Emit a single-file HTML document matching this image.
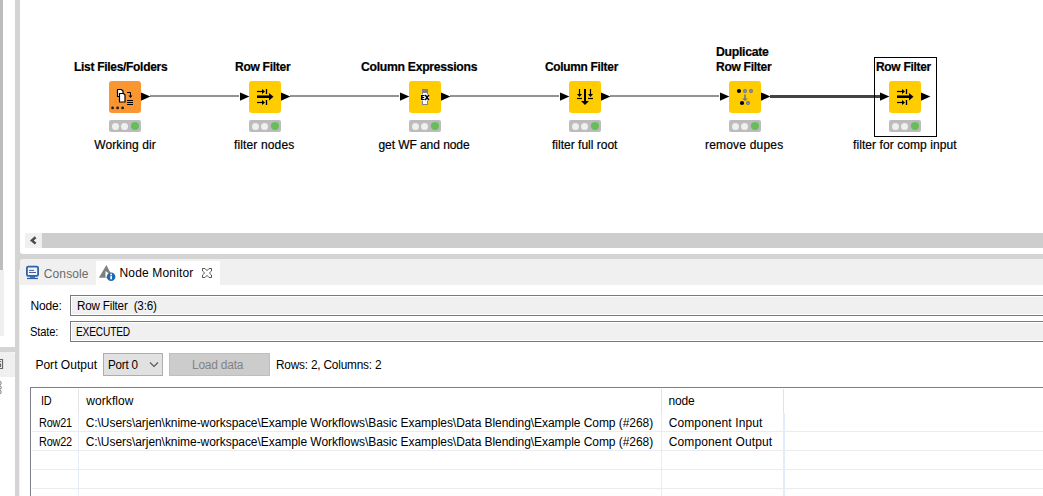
<!DOCTYPE html>
<html><head><meta charset="utf-8">
<style>
*{margin:0;padding:0;box-sizing:border-box}
html,body{width:1043px;height:496px;overflow:hidden;background:#fff;position:relative;font-family:"Liberation Sans",sans-serif;color:#000}
.a{position:absolute}
.t{position:absolute;white-space:pre;-webkit-text-stroke:0.2px currentColor}
.node{position:absolute;width:32px;height:32px;border-radius:3px;background:#ffcc00;top:81px}
.node svg{position:absolute;left:0;top:0}
.port{position:absolute;top:92px}
.tl{position:absolute;top:120px;width:32px;height:12px;background:#bcbcbc;border-radius:2px}
.tl i{position:absolute;top:2.5px;width:7px;height:7px;border-radius:50%;background:#efefef}
.tl i.g{background:#67bd5c;width:8px;height:8px;top:2px}
.conn{position:absolute;top:95px;height:2px;background:#939393}
</style></head><body>
<!-- left strip -->
<div class="a" style="left:0;top:0;width:3px;height:270px;background:#bdbdbd"></div>
<div class="a" style="left:0;top:270px;width:4px;height:66px;background:#efefef"></div>
<div class="a" style="left:0;top:347px;width:15px;height:5px;background:#d4d4d4"></div>
<div class="a" style="left:0;top:352px;width:15px;height:25px;background:#f0f0f0;border-top-right-radius:3px"></div>
<svg class="a" style="left:0;top:358px" width="4" height="12"><path d="M-6 1.5H2.5V10.5H-6" fill="none" stroke="#666" stroke-width="1.2"/><path d="M0.5 3V4M0.5 5.5V9" stroke="#666" stroke-width="1.1"/></svg>
<svg class="a" style="left:0;top:380px" width="4" height="16"><circle cx="-0.8" cy="3" r="2" fill="none" stroke="#777" stroke-width="1"/><circle cx="-0.8" cy="7.5" r="2" fill="none" stroke="#777" stroke-width="1"/><circle cx="-0.8" cy="12" r="2" fill="none" stroke="#777" stroke-width="1"/></svg>
<div class="a" style="left:15px;top:0;width:5px;height:259px;background:#d4d4d4"></div>
<div class="a" style="left:15px;top:259px;width:4px;height:237px;background:#d4d4d4"></div>
<div class="a" style="left:19px;top:259px;width:1px;height:237px;background:#f0f0f0"></div>

<!-- corner fills -->
<div class="a" style="left:15px;top:240px;width:12px;height:30px;background:#d4d4d4"></div>
<div class="a" style="left:20px;top:0;width:1023px;height:254px;background:#fff;border-bottom-left-radius:3px"></div>
<!-- canvas scrollbar -->
<div class="a" style="left:25px;top:233px;width:17px;height:15px;background:#f0f0f0"></div>
<svg class="a" style="left:25px;top:233px" width="17" height="16"><path d="M10.6 4.3 L6.9 7.4 L10.6 10.6" fill="none" stroke="#4a4a4a" stroke-width="2.5"/></svg>
<div class="a" style="left:42px;top:233px;width:1001px;height:15px;background:#cdcdcd"></div>
<div class="a" style="left:20px;top:254px;width:1023px;height:5px;background:#d4d4d4"></div>

<!-- connections -->
<div class="conn" style="left:150px;width:89px"></div>
<div class="conn" style="left:290px;width:109px"></div>
<div class="conn" style="left:450px;width:109px"></div>
<div class="conn" style="left:610px;width:109px"></div>
<div class="conn" style="left:770px;width:110px;height:3px;background:#444"></div>

<!-- ports -->
<svg class="port" style="left:141px" width="10" height="10"><path d="M0 0.4L9.4 4.6L0 8.8Z" fill="#000"/></svg>
<svg class="port" style="left:240px" width="10" height="10"><path d="M0 0.4L9.4 4.6L0 8.8Z" fill="#000"/></svg>
<svg class="port" style="left:281px" width="10" height="10"><path d="M0 0.4L9.4 4.6L0 8.8Z" fill="#000"/></svg>
<svg class="port" style="left:400px" width="10" height="10"><path d="M0 0.4L9.4 4.6L0 8.8Z" fill="#000"/></svg>
<svg class="port" style="left:441px" width="10" height="10"><path d="M0 0.4L9.4 4.6L0 8.8Z" fill="#000"/></svg>
<svg class="port" style="left:560px" width="10" height="10"><path d="M0 0.4L9.4 4.6L0 8.8Z" fill="#000"/></svg>
<svg class="port" style="left:601px" width="10" height="10"><path d="M0 0.4L9.4 4.6L0 8.8Z" fill="#000"/></svg>
<svg class="port" style="left:720px" width="10" height="10"><path d="M0 0.4L9.4 4.6L0 8.8Z" fill="#000"/></svg>
<svg class="port" style="left:761px" width="10" height="10"><path d="M0 0.4L9.4 4.6L0 8.8Z" fill="#000"/></svg>
<svg class="port" style="left:880px" width="10" height="10"><path d="M0 0.4L9.4 4.6L0 8.8Z" fill="#000"/></svg>
<svg class="port" style="left:921px" width="10" height="10"><path d="M0 0.4L9.4 4.6L0 8.8Z" fill="#000"/></svg>

<!-- node 1: List Files/Folders -->
<div class="node" style="left:109px;background:#fa9632">
<svg width="32" height="32">
 <path d="M8.5 8.5H12.5L14 10V15.5H8.5Z" fill="#fff" stroke="#000" stroke-width="1.2"/>
 <path d="M10.5 12.5H14.5L16 14V21H10.5Z" fill="#fff" stroke="#000" stroke-width="1.2"/>
 <path d="M18 11.5H21.5V15.5" fill="none" stroke="#000" stroke-width="1"/>
 <path d="M19.5 14.5H23.5L21.5 17Z" fill="#000"/>
 <path d="M18 19.5H24M18 21.5H24M18 23.5H24" stroke="#000" stroke-width="1"/>
 <circle cx="3.6" cy="26.9" r="1.4" fill="#142030"/><circle cx="8.6" cy="26.9" r="1.4" fill="#142030"/><circle cx="13.6" cy="26.9" r="1.4" fill="#142030"/>
</svg></div>
<div class="tl" style="left:109px"><i style="left:3px"></i><i style="left:12.4px"></i><i class="g" style="left:22px"></i></div>

<!-- node 2: Row Filter -->
<div class="node" style="left:249px">
<svg width="32" height="32">
 <path d="M8 10.5H14" stroke="#000" stroke-width="1.2"/><path d="M13 8L16 10.5L13 13Z" fill="#000"/><path d="M17.5 8V13" stroke="#000" stroke-width="1.3"/>
 <path d="M8 15.7H21" stroke="#000" stroke-width="2.6"/><path d="M20 12L24.5 15.7L20 19.5Z" fill="#000"/>
 <path d="M8 21.5H14" stroke="#000" stroke-width="1.2"/><path d="M13 19L16 21.5L13 24Z" fill="#000"/><path d="M17.5 19V24" stroke="#000" stroke-width="1.3"/>
</svg></div>
<div class="tl" style="left:249px"><i style="left:3px"></i><i style="left:12.4px"></i><i class="g" style="left:22px"></i></div>

<!-- node 3: Column Expressions -->
<div class="node" style="left:409px">
<svg width="32" height="32">
 <rect x="13.5" y="8.5" width="5" height="15" fill="#fff" stroke="#80808a" stroke-width="1"/>
 <rect x="13" y="8" width="6" height="4" fill="#80808a"/>
 <rect x="12" y="13.5" width="8" height="6" fill="#fff"/>
 <rect x="12" y="14" width="1.5" height="5" fill="#000"/>
 <rect x="12" y="14" width="3.6" height="1.1" fill="#000"/>
 <rect x="12" y="16" width="3.2" height="1" fill="#000"/>
 <rect x="12" y="17.9" width="3.6" height="1.1" fill="#000"/>
 <path d="M16.2 14L19.9 19M19.9 14L16.2 19" stroke="#000" stroke-width="1.4"/>
</svg></div>
<div class="tl" style="left:409px"><i style="left:3px"></i><i style="left:12.4px"></i><i class="g" style="left:22px"></i></div>

<!-- node 4: Column Filter -->
<div class="node" style="left:569px">
<svg width="32" height="32">
 <path d="M16 8V21" stroke="#000" stroke-width="2"/><path d="M12 20H20L16 24Z" fill="#000"/>
 <path d="M10.5 8V13.5" stroke="#000" stroke-width="1.2"/><path d="M8 13H13L10.5 16Z" fill="#000"/><path d="M8 17.5H13" stroke="#000" stroke-width="1.2"/>
 <path d="M21.5 8V13.5" stroke="#000" stroke-width="1.2"/><path d="M19 13H24L21.5 16Z" fill="#000"/><path d="M19 17.5H24" stroke="#000" stroke-width="1.2"/>
</svg></div>
<div class="tl" style="left:569px"><i style="left:3px"></i><i style="left:12.4px"></i><i class="g" style="left:22px"></i></div>

<!-- node 5: Duplicate Row Filter -->
<div class="node" style="left:729px">
<svg width="32" height="32">
 <circle cx="10" cy="10" r="2.1" fill="#000"/><circle cx="16" cy="10" r="1.7" fill="#858ba6" stroke="#6f7694" stroke-width="0.8"/><circle cx="22" cy="10" r="1.7" fill="#858ba6" stroke="#6f7694" stroke-width="0.8"/>
 <path d="M16 13.5V18" stroke="#6f7694" stroke-width="1.6"/><path d="M13 17.5H19L16 20Z" fill="#6f7694"/>
 <circle cx="13" cy="22" r="2.1" fill="#000"/><circle cx="19" cy="22" r="1.7" fill="#858ba6" stroke="#6f7694" stroke-width="0.8"/>
</svg></div>
<div class="tl" style="left:729px"><i style="left:3px"></i><i style="left:12.4px"></i><i class="g" style="left:22px"></i></div>

<!-- node 6: Row Filter (selected) -->
<div class="a" style="left:874px;top:57px;width:63px;height:80px;border:1px solid #000"></div>
<div class="node" style="left:889px">
<svg width="32" height="32">
 <path d="M8 10.5H14" stroke="#000" stroke-width="1.2"/><path d="M13 8L16 10.5L13 13Z" fill="#000"/><path d="M17.5 8V13" stroke="#000" stroke-width="1.3"/>
 <path d="M8 15.7H21" stroke="#000" stroke-width="2.6"/><path d="M20 12L24.5 15.7L20 19.5Z" fill="#000"/>
 <path d="M8 21.5H14" stroke="#000" stroke-width="1.2"/><path d="M13 19L16 21.5L13 24Z" fill="#000"/><path d="M17.5 19V24" stroke="#000" stroke-width="1.3"/>
</svg></div>
<div class="tl" style="left:889px"><i style="left:3px"></i><i style="left:12.4px"></i><i class="g" style="left:22px"></i></div>

<!-- bottom panel tab bar -->
<div class="a" style="left:20px;top:259px;width:1023px;height:26px;background:#f0f0f0;border-top-left-radius:3px"></div>
<div class="a" style="left:96px;top:261px;width:124px;height:24px;background:#fff"></div>
<!-- console icon -->
<svg class="a" style="left:26px;top:265px" width="14" height="15">
 <rect x="0.9" y="1.7" width="11.2" height="9.1" rx="1.3" fill="#eef6fc" stroke="#2f62a8" stroke-width="1.8"/>
 <path d="M3 5.4H8M3 7.5H10" stroke="#4a5c9c" stroke-width="1"/>
 <rect x="4" y="11.2" width="5" height="1.6" fill="#2f62a8"/>
 <rect x="1" y="12.8" width="11" height="1.3" fill="#2f62a8"/>
</svg>
<!-- node monitor icon -->
<svg class="a" style="left:97px;top:263px" width="20" height="20">
 <path d="M9.4 2L16 14.8H1.9Z" fill="#808080"/>
 <path d="M8.5 8L13 11.5L8.5 14.8Z" fill="#fff"/>
 <circle cx="14.1" cy="13.7" r="4.3" fill="#1f68b4"/>
 <rect x="13.3" y="10.7" width="1.7" height="1.4" fill="#fff"/>
 <rect x="13.3" y="12.7" width="1.7" height="3.6" fill="#fff"/>
</svg>
<!-- close icon -->
<svg class="a" style="left:202px;top:268px" width="11" height="11">
 <path d="M0.5 0.5H3L5 2.6L7 0.5H9.5V3L7.4 5L9.5 7V9.5H7L5 7.4L3 9.5H0.5V7L2.6 5L0.5 3Z" fill="none" stroke="#555" stroke-width="1"/>
</svg>
<!-- fields -->
<div class="a" style="left:70px;top:295px;width:980px;height:21px;border:1px solid #7a7a7a;background:#f0f0f0;box-shadow:inset 0 0 0 1px #fff"></div>
<div class="a" style="left:70px;top:321px;width:980px;height:21px;border:1px solid #7a7a7a;background:#f0f0f0;box-shadow:inset 0 0 0 1px #fff"></div>

<!-- port output row -->
<div class="a" style="left:103px;top:353px;width:60px;height:23px;border:1px solid #adadad;background:#e1e1e1"></div>
<svg class="a" style="left:149px;top:361px" width="11" height="8"><path d="M1 1.5L5 5.5L9 1.5" fill="none" stroke="#555" stroke-width="1.1"/></svg>
<div class="a" style="left:169px;top:353px;width:101px;height:23px;border:1px solid #bfbfbf;background:#cccccc"></div>

<!-- table -->
<div class="a" style="left:30px;top:387px;width:1013px;height:1px;background:#7a7f8a"></div>
<div class="a" style="left:30px;top:387px;width:1px;height:109px;background:#7a7f8a"></div>
<div class="a" style="left:78px;top:389px;width:1px;height:24px;background:#e3e3e3"></div>
<div class="a" style="left:661px;top:389px;width:1px;height:24px;background:#e3e3e3"></div>
<div class="a" style="left:783px;top:389px;width:1px;height:24px;background:#e3e3e3"></div>
<div class="a" style="left:78px;top:413px;width:1px;height:83px;background:#e6edf6"></div>
<div class="a" style="left:661px;top:413px;width:1px;height:83px;background:#e6edf6"></div>
<div class="a" style="left:783px;top:413px;width:2px;height:83px;background:#e3ecf8"></div>
<div class="a" style="left:32px;top:431px;width:1011px;height:1px;background:#ececec"></div>
<div class="a" style="left:32px;top:450px;width:1011px;height:1px;background:#ececec"></div>
<div class="a" style="left:32px;top:469px;width:1011px;height:1px;background:#ececec"></div>
<div class="a" style="left:32px;top:488px;width:1011px;height:1px;background:#ececec"></div>

<div class="t" style="left:74.00px;top:60.58px;font-size:12.4px;line-height:12.4px;font-weight:bold;color:#000;letter-spacing:-0.300px;transform:scaleX(0.9666);transform-origin:0 0">List Files/Folders</div>
<div class="t" style="left:235.30px;top:60.58px;font-size:12.4px;line-height:12.4px;font-weight:bold;color:#000;letter-spacing:-0.300px;transform:scaleX(0.9722);transform-origin:0 0">Row Filter</div>
<div class="t" style="left:361.00px;top:60.58px;font-size:12.4px;line-height:12.4px;font-weight:bold;color:#000;letter-spacing:-0.300px;transform:scaleX(0.9858);transform-origin:0 0">Column Expressions</div>
<div class="t" style="left:545.30px;top:60.58px;font-size:12.4px;line-height:12.4px;font-weight:bold;color:#000;letter-spacing:-0.300px;transform:scaleX(0.9609);transform-origin:0 0">Column Filter</div>
<div class="t" style="left:716.00px;top:45.98px;font-size:12.4px;line-height:12.4px;font-weight:bold;color:#000;letter-spacing:-0.300px;transform:scaleX(0.9914);transform-origin:0 0">Duplicate</div>
<div class="t" style="left:715.50px;top:60.58px;font-size:12.4px;line-height:12.4px;font-weight:bold;color:#000;letter-spacing:-0.300px;transform:scaleX(0.9722);transform-origin:0 0">Row Filter</div>
<div class="t" style="left:875.70px;top:60.58px;font-size:12.4px;line-height:12.4px;font-weight:bold;color:#000;letter-spacing:-0.300px;transform:scaleX(0.9656);transform-origin:0 0">Row Filter</div>
<div class="t" style="left:94.20px;top:138.93px;font-size:12px;line-height:12px;font-weight:normal;color:#000;letter-spacing:0.103px">Working dir</div>
<div class="t" style="left:234.00px;top:138.93px;font-size:12px;line-height:12px;font-weight:normal;color:#000;letter-spacing:0.136px">filter nodes</div>
<div class="t" style="left:378.40px;top:138.93px;font-size:12px;line-height:12px;font-weight:normal;color:#000;letter-spacing:-0.056px">get WF and node</div>
<div class="t" style="left:552.00px;top:138.93px;font-size:12px;line-height:12px;font-weight:normal;color:#000;letter-spacing:0.005px">filter full root</div>
<div class="t" style="left:705.00px;top:138.93px;font-size:12px;line-height:12px;font-weight:normal;color:#000;letter-spacing:0.196px">remove dupes</div>
<div class="t" style="left:853.10px;top:138.93px;font-size:12px;line-height:12px;font-weight:normal;color:#000;letter-spacing:0.070px">filter for comp input</div>
<div class="t" style="left:43.80px;top:267.83px;font-size:12px;line-height:12px;font-weight:normal;color:#6a6a6a;letter-spacing:0.108px;-webkit-text-stroke:0">Console</div>
<div class="t" style="left:119.50px;top:266.83px;font-size:12px;line-height:12px;font-weight:normal;color:#000;letter-spacing:0.160px;-webkit-text-stroke:0">Node Monitor</div>
<div class="t" style="left:30.40px;top:300.03px;font-size:12px;line-height:12px;font-weight:normal;color:#000;letter-spacing:-0.147px;-webkit-text-stroke:0">Node:</div>
<div class="t" style="left:76.60px;top:299.93px;font-size:12px;line-height:12px;font-weight:normal;color:#000;letter-spacing:-0.200px;transform:scaleX(0.9724);transform-origin:0 0;-webkit-text-stroke:0">Row Filter  (3:6)</div>
<div class="t" style="left:30.40px;top:325.93px;font-size:12px;line-height:12px;font-weight:normal;color:#000;letter-spacing:-0.200px;transform:scaleX(0.9317);transform-origin:0 0;-webkit-text-stroke:0">State:</div>
<div class="t" style="left:76.30px;top:325.93px;font-size:12px;line-height:12px;font-weight:normal;color:#000;letter-spacing:-0.200px;transform:scaleX(0.8466);transform-origin:0 0;-webkit-text-stroke:0">EXECUTED</div>
<div class="t" style="left:35.40px;top:358.83px;font-size:12px;line-height:12px;font-weight:normal;color:#000;letter-spacing:0.027px;-webkit-text-stroke:0">Port Output</div>
<div class="t" style="left:107.70px;top:358.93px;font-size:12px;line-height:12px;font-weight:normal;color:#000;letter-spacing:-0.200px;transform:scaleX(0.9678);transform-origin:0 0;-webkit-text-stroke:0">Port 0</div>
<div class="t" style="left:192.00px;top:358.83px;font-size:12px;line-height:12px;font-weight:normal;color:#838383;letter-spacing:-0.200px;transform:scaleX(0.9942);transform-origin:0 0;-webkit-text-stroke:0">Load data</div>
<div class="t" style="left:276.00px;top:358.63px;font-size:12px;line-height:12px;font-weight:normal;color:#000;letter-spacing:-0.200px;transform:scaleX(0.9853);transform-origin:0 0;-webkit-text-stroke:0">Rows: 2, Columns: 2</div>
<div class="t" style="left:40.69px;top:395.03px;font-size:12px;line-height:12px;font-weight:normal;color:#000;letter-spacing:-0.200px;transform:scaleX(0.9088);transform-origin:0 0;-webkit-text-stroke:0">ID</div>
<div class="t" style="left:86.30px;top:395.03px;font-size:12px;line-height:12px;font-weight:normal;color:#000;letter-spacing:0.070px;-webkit-text-stroke:0">workflow</div>
<div class="t" style="left:668.50px;top:395.03px;font-size:12px;line-height:12px;font-weight:normal;color:#000;letter-spacing:-0.174px;-webkit-text-stroke:0">node</div>
<div class="t" style="left:38.60px;top:416.93px;font-size:12px;line-height:12px;font-weight:normal;color:#000;letter-spacing:-0.200px;transform:scaleX(0.9050);transform-origin:0 0;-webkit-text-stroke:0">Row21</div>
<div class="t" style="left:85.70px;top:416.93px;font-size:12px;line-height:12px;font-weight:normal;color:#000;letter-spacing:-0.054px;-webkit-text-stroke:0">C:\Users\arjen\knime-workspace\Example Workflows\Basic Examples\Data Blending\Example Comp (#268)</div>
<div class="t" style="left:668.70px;top:416.93px;font-size:12px;line-height:12px;font-weight:normal;color:#000;letter-spacing:0.112px;-webkit-text-stroke:0">Component Input</div>
<div class="t" style="left:38.60px;top:436.33px;font-size:12px;line-height:12px;font-weight:normal;color:#000;letter-spacing:-0.200px;transform:scaleX(0.9050);transform-origin:0 0;-webkit-text-stroke:0">Row22</div>
<div class="t" style="left:85.70px;top:436.33px;font-size:12px;line-height:12px;font-weight:normal;color:#000;letter-spacing:-0.054px;-webkit-text-stroke:0">C:\Users\arjen\knime-workspace\Example Workflows\Basic Examples\Data Blending\Example Comp (#268)</div>
<div class="t" style="left:668.70px;top:436.33px;font-size:12px;line-height:12px;font-weight:normal;color:#000;letter-spacing:0.136px;-webkit-text-stroke:0">Component Output</div>
</body></html>
